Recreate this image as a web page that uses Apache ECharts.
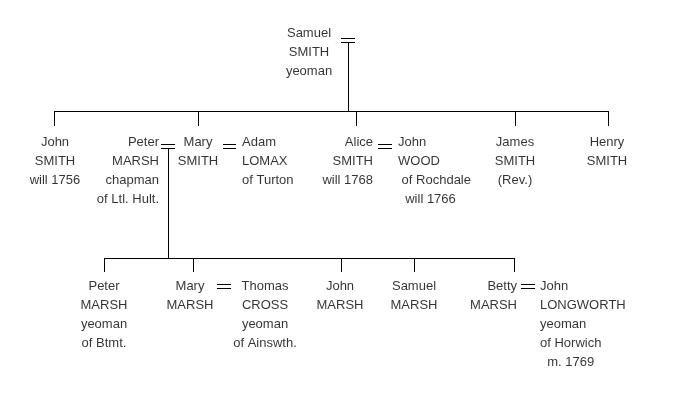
<!DOCTYPE html>
<html><head><meta charset="utf-8">
<script src="https://cdn.jsdelivr.net/npm/echarts@6/dist/echarts.min.js"></script>
<style>html,body{margin:0;padding:0;background:#fff}#c{width:693px;height:404px}</style>
</head><body><div id="c"></div>
<script>
// people: [x anchor, top y, align, text]
const people = [
  [309, 24, 'center', 'Samuel\nSMITH\nyeoman'],
  [55, 133, 'center', 'John\nSMITH\nwill 1756'],
  [159, 133, 'right', 'Peter\nMARSH\nchapman\nof Ltl. Hult.'],
  [198, 133, 'center', 'Mary\nSMITH'],
  [242, 133, 'left', 'Adam\nLOMAX\nof Turton'],
  [373, 133, 'right', 'Alice\nSMITH\nwill 1768'],
  [398, 133, 'left', 'John\nWOOD\n of Rochdale\n  will 1766'],
  [515, 133, 'center', 'James\nSMITH\n(Rev.)'],
  [607, 133, 'center', 'Henry\nSMITH'],
  [104, 277, 'center', 'Peter\nMARSH\nyeoman\nof Btmt.'],
  [190, 277, 'center', 'Mary\nMARSH'],
  [265, 277, 'center', 'Thomas\nCROSS\nyeoman\nof Ainswth.'],
  [340, 277, 'center', 'John\nMARSH'],
  [414, 277, 'center', 'Samuel\nMARSH'],
  [517, 277, 'right', 'Betty\nMARSH'],
  [540, 277, 'left', 'John\nLONGWORTH\nyeoman\nof Horwich\n  m. 1769']
];
// marriage markers: [x1, x2, yTop]
const marriages = [[341,355,38],[161,175,144],[223,236,144],[378,392,144],[217,231,284],[521,535,284]];
// connector segments [x1,y1,x2,y2]
const links = [
  [348,42,348,111],[54,111,608,111],
  [54,111,54,126],[198,111,198,126],[356,111,356,126],[515,111,515,126],[608,111,608,126],
  [168,148,168,258],[104,258,514,258],
  [104,258,104,272],[193,258,193,272],[341,258,341,272],[414,258,414,272],[514,258,514,272]
];
const segs = [];
links.forEach(l => segs.push({coords: [[l[0], l[1]], [l[2], l[3]]]}));
marriages.forEach(m => {
  segs.push({coords: [[m[0], m[2]], [m[1], m[2]]]});
  segs.push({coords: [[m[0], m[2] + 4], [m[1], m[2] + 4]]});
});
const chart = echarts.init(document.getElementById('c'));
chart.setOption({
  animation: false,
  grid: {left: 0, right: 0, top: 0, bottom: 0},
  xAxis: {type: 'value', min: 0, max: 693, show: false},
  yAxis: {type: 'value', min: 0, max: 404, inverse: true, show: false},
  series: [
    {type: 'lines', coordinateSystem: 'cartesian2d', data: segs,
     lineStyle: {color: '#000', width: 1, opacity: 1}, silent: true},
    {type: 'scatter', symbolSize: 0,
     data: people.map(p => ({value: [p[0], p[1]], label: {align: p[2], formatter: p[3]}})),
     label: {show: true, position: 'inside', verticalAlign: 'top', lineHeight: 19,
             fontFamily: 'Liberation Sans', fontSize: 13, color: '#000'}}
  ]
});
</script></body></html>
